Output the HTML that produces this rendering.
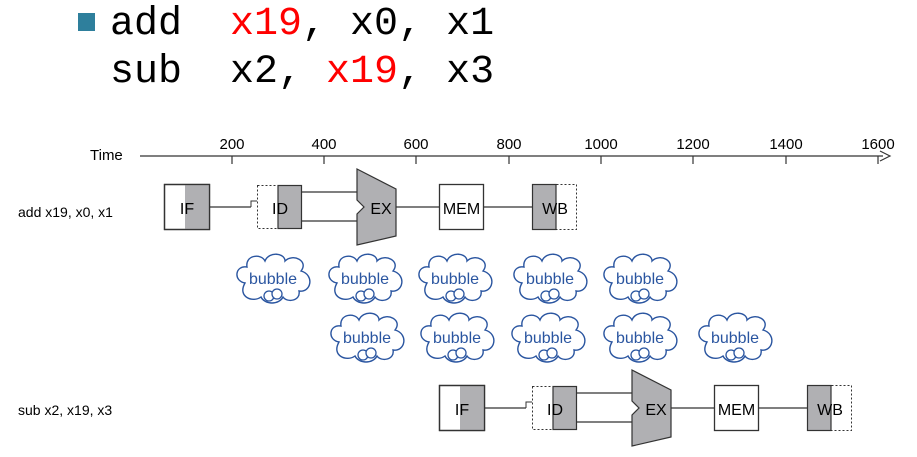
<!DOCTYPE html>
<html><head><meta charset="utf-8"><style>
html,body{margin:0;padding:0;background:#fff;width:917px;height:457px;overflow:hidden}
svg{display:block}
.pre{white-space:pre}
</style></head><body>
<svg width="917" height="457" viewBox="0 0 917 457" xmlns="http://www.w3.org/2000/svg">
<defs>
<g id="bub">
  <path d="M-28,4 C-40,2 -38,-14 -26,-12 C-28,-24 -12,-26 -8,-18 C-4,-28 12,-26 12,-18 C20,-26 36,-18 28,-8 C42,-4 38,14 26,12 C28,22 14,24 10,18 C6,26 -8,26 -12,18 C-20,24 -36,18 -28,4 Z" fill="#fff" stroke="#2a55a0" stroke-width="1.4"/>
  <circle cx="-4" cy="17" r="5" fill="#fff" stroke="#2a55a0" stroke-width="1.3"/>
  <circle cx="4" cy="15" r="5" fill="#fff" stroke="#2a55a0" stroke-width="1.3"/>
  <text x="0" y="5" text-anchor="middle" font-family="Liberation Sans, sans-serif" font-size="16" fill="#2a55a0">bubble</text>
</g>
<g id="pipe">
  <line x1="210" y1="207" x2="251" y2="207" stroke="#333" stroke-width="1.3"/>
  <path d="M251,207 V201 H257" fill="none" stroke="#333" stroke-width="1"/>
  <rect x="164.5" y="184.5" width="45" height="45" fill="#fff" stroke="#333" stroke-width="1.3"/>
  <rect x="185" y="185" width="24" height="44" fill="#b0b0b3"/>
  <rect x="164.5" y="184.5" width="45" height="45" fill="none" stroke="#333" stroke-width="1.3"/>
  <text x="187" y="214" text-anchor="middle" font-family="Liberation Sans, sans-serif" font-size="16">IF</text>
  <rect x="257.5" y="185.5" width="44" height="43" fill="#fff" stroke="#333" stroke-width="1" stroke-dasharray="2,2"/>
  <rect x="278" y="185.5" width="23.5" height="43" fill="#b0b0b3" stroke="#333" stroke-width="1.2"/>
  <text x="280" y="214" text-anchor="middle" font-family="Liberation Sans, sans-serif" font-size="16">ID</text>
  <line x1="302" y1="192" x2="358" y2="192" stroke="#333" stroke-width="1.3"/>
  <line x1="302" y1="221" x2="358" y2="221" stroke="#333" stroke-width="1.3"/>
  <path d="M357,169 L396,189 L396,236 L357,245 L357,214 L364,207 L357,200 Z" fill="#b0b0b3" stroke="#333" stroke-width="1.2"/>
  <text x="381" y="214" text-anchor="middle" font-family="Liberation Sans, sans-serif" font-size="16">EX</text>
  <line x1="396" y1="207" x2="439" y2="207" stroke="#333" stroke-width="1.3"/>
  <rect x="439.5" y="184.5" width="44" height="45" fill="#fff" stroke="#333" stroke-width="1.3"/>
  <text x="461.5" y="214" text-anchor="middle" font-family="Liberation Sans, sans-serif" font-size="16">MEM</text>
  <line x1="484" y1="207" x2="532" y2="207" stroke="#333" stroke-width="1.3"/>
  <rect x="532.5" y="184.5" width="44" height="45" fill="#fff" stroke="#333" stroke-width="1" stroke-dasharray="2,2"/>
  <rect x="532.5" y="184.5" width="23.5" height="45" fill="#b0b0b3" stroke="#333" stroke-width="1.2"/>
  <text x="555" y="214" text-anchor="middle" font-family="Liberation Sans, sans-serif" font-size="16">WB</text>
</g>
</defs>
<rect x="78" y="13" width="17" height="18" fill="#2e7f9c"/>
<text class="pre" xml:space="preserve" font-family="Liberation Mono, monospace" font-size="40" y="34" x="110">add  <tspan fill="#f00">x19</tspan>, x0, x1</text>
<text class="pre" xml:space="preserve" font-family="Liberation Mono, monospace" font-size="40" y="82" x="110">sub  x2, <tspan fill="#f00">x19</tspan>, x3</text>

<text x="90" y="160" font-family="Liberation Sans, sans-serif" font-size="15">Time</text>
<line x1="140" y1="156" x2="883" y2="156" stroke="#333" stroke-width="1.2"/>
<path d="M880,151 L890,156 L880,161" fill="none" stroke="#333" stroke-width="1.2"/>
<g stroke="#333" stroke-width="1.2">
<line x1="232" y1="156" x2="232" y2="164"/><line x1="324" y1="156" x2="324" y2="164"/><line x1="416" y1="156" x2="416" y2="164"/><line x1="509" y1="156" x2="509" y2="164"/><line x1="601" y1="156" x2="601" y2="164"/><line x1="693" y1="156" x2="693" y2="164"/><line x1="786" y1="156" x2="786" y2="164"/><line x1="878" y1="156" x2="878" y2="164"/>
</g>
<g font-family="Liberation Sans, sans-serif" font-size="15" text-anchor="middle">
<text x="232" y="149">200</text><text x="324" y="149">400</text><text x="416" y="149">600</text><text x="509" y="149">800</text><text x="601" y="149">1000</text><text x="693" y="149">1200</text><text x="786" y="149">1400</text><text x="878" y="149">1600</text>
</g>
<text x="18" y="217" font-family="Liberation Sans, sans-serif" font-size="14">add x19, x0, x1</text>
<text x="18" y="415" font-family="Liberation Sans, sans-serif" font-size="14">sub x2, x19, x3</text>
<use href="#pipe"/>
<use href="#pipe" transform="translate(275,201)"/>
<use href="#bub" transform="translate(273,279)"/>
<use href="#bub" transform="translate(365,279)"/>
<use href="#bub" transform="translate(455,279)"/>
<use href="#bub" transform="translate(550,279)"/>
<use href="#bub" transform="translate(640,279)"/>
<use href="#bub" transform="translate(367,338)"/>
<use href="#bub" transform="translate(457,338)"/>
<use href="#bub" transform="translate(548,338)"/>
<use href="#bub" transform="translate(640,338)"/>
<use href="#bub" transform="translate(735,338)"/>
</svg>
</body></html>
